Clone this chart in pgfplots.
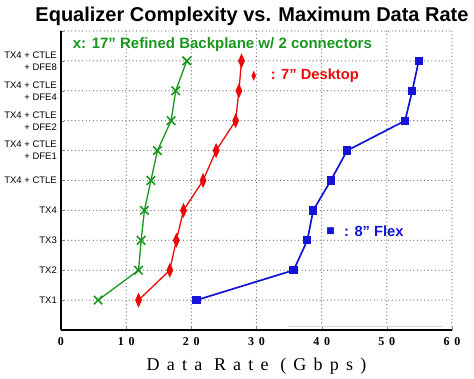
\documentclass[border=0pt]{standalone}
\usepackage{fontspec}
\setmainfont{Liberation Sans}
\newfontfamily\spacedserif[LetterSpace=40]{Liberation Serif}
\newfontfamily\spacedserifb[LetterSpace=40]{Liberation Serif Bold}
\newfontfamily\djv{DejaVu Sans}
\usepackage{pgfplots}
\pgfplotsset{compat=1.18}
\definecolor{cgreen}{RGB}{25,150,30}
\definecolor{cred}{RGB}{235,10,10}
\definecolor{cblue}{RGB}{20,20,215}
\begin{document}
\begin{tikzpicture}
\begin{axis}[
  at={(0,0)}, anchor=south west,
  scale only axis, width=391bp, height=299bp,
  xmin=0, xmax=60, ymin=0, ymax=10,
  axis x line*=bottom, axis y line*=left,
  axis line style={line width=1.5bp, black, -},
  xtick={0,10,...,60},
  ytick={1,...,10},
  yticklabels={TX1,TX2,TX3,TX4,TX4 + CTLE,{TX4 + CTLE\\+ DFE1},{TX4 + CTLE\\+ DFE2},{TX4 + CTLE\\+ DFE4},{TX4 + CTLE\\+ DFE8},{}},
  yticklabel style={align=right, font=\fontsize{9.5bp}{12bp}\selectfont, inner sep=0pt, xshift=-4bp},
  xticklabel style={font=\fontsize{12bp}{14bp}\spacedserifb, yshift=-4bp},
  xticklabel={\pgfmathprintnumber[assume math mode=true]{\tick}},
  tick align=inside, major tick length=3bp,
  xmajorgrids=true, ymajorgrids=true,
  major grid style={black!55, line width=1.3bp, line cap=round, dash pattern=on 0bp off 3.6bp},
  xlabel={Data Rate (Gbps)},
  xlabel style={font=\fontsize{18bp}{20bp}\spacedserif, yshift=-6bp},
]
\addplot[cgreen, line width=1.3bp, mark=x, mark size=6bp, mark options={line width=1.6bp}] coordinates {
(5.7,1) (11.9,2) (12.3,3) (12.8,4) (13.8,5) (14.8,6) (16.9,7) (17.6,8) (19.3,9)};
\addplot[cred, line width=1.3bp, mark=diamond*, mark size=6bp, mark options={xscale=0.6}] coordinates {
(11.9,1) (16.7,2) (17.7,3) (18.8,4) (21.8,5) (23.8,6) (26.8,7) (27.3,8) (27.7,9)};
\addplot[cblue, line width=1.7bp, mark=square*, mark size=3.3bp] coordinates {
(20.8,1) (35.7,2) (37.8,3) (38.7,4) (41.4,5) (43.9,6) (52.8,7) (53.9,8) (54.9,9)};
\end{axis}
\draw[gray!30, line width=0.8bp] (227bp,4bp) -- (382bp,4bp);
\node[font=\fontsize{20bp}{22bp}\bfseries] at (191bp,314bp) {Equalizer Complexity vs. Maximum Data Rate};
\node[anchor=west, inner sep=0pt, text=cgreen, font=\fontsize{15bp}{17bp}\bfseries] at (11.7bp,285bp) {x: 17” Refined Backplane w/ 2 connectors};
\node[inner sep=0pt, text=cred, font=\fontsize{12bp}{14bp}\djv] at (193bp,254bp) {\scalebox{0.7}[1.2]{♦}};
\node[anchor=west, inner sep=0pt, text=cred, font=\fontsize{14.7bp}{17bp}\bfseries] at (209.7bp,254bp) {: 7” Desktop};
\node[inner sep=0pt, text=cblue, font=\fontsize{9bp}{11bp}\djv] at (269.7bp,99bp) {■};
\node[anchor=west, inner sep=0pt, text=cblue, font=\fontsize{14.7bp}{17bp}\bfseries] at (283bp,99bp) {: 8” Flex};
\path (-61bp,-44bp) rectangle (413bp,330bp);
\end{tikzpicture}
\end{document}
